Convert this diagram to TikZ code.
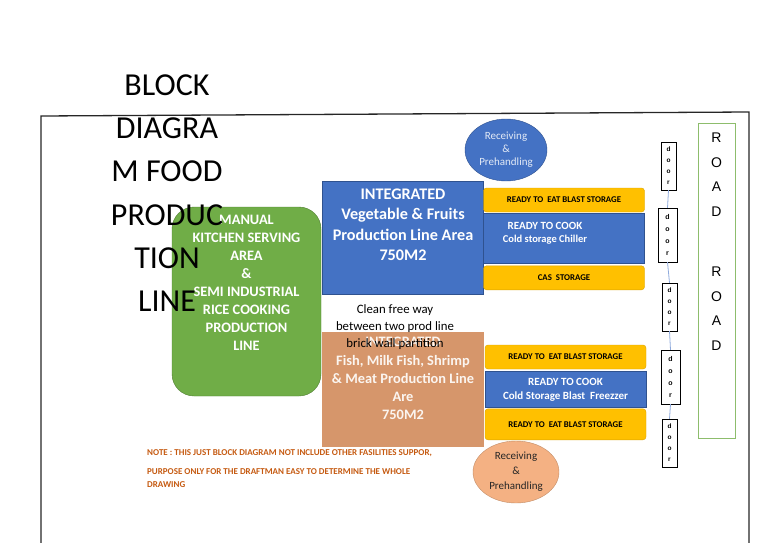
\documentclass[tikz,border=0pt]{standalone}
\usepackage{fontspec}
\setmainfont{Carlito}
\newfontfamily\fplarial{Liberation Sans}
\usepackage{xcolor}
\definecolor{fplblue}{HTML}{4472C4}
\definecolor{fplblueline}{HTML}{2F528F}
\definecolor{fplgreen}{HTML}{70AD47}
\definecolor{fplgreenline}{HTML}{507E32}
\definecolor{fpltan}{HTML}{D6966B}
\definecolor{fplsalmon}{HTML}{F4B183}
\definecolor{fplyellow}{HTML}{FFC000}
\definecolor{fplnote}{HTML}{C55A11}
\definecolor{fpllink}{HTML}{8FAADC}
\usepackage{tikz}
\usetikzlibrary{positioning,shapes.geometric}
\tikzset{
  fplarea/.style={draw,inner sep=0pt},
  fplstore/.style={draw=fplyellow!85!black,fill=fplyellow,rounded corners=3pt,minimum width=161pt,minimum height=24pt,inner sep=0pt,font=\bfseries\fontsize{8.8}{10}\selectfont},
  fplcold/.style={draw=fplblueline,fill=fplblue,minimum width=161pt,inner sep=0pt,text=white,align=center},
  fplrecv/.style={ellipse,inner sep=0pt,align=center,minimum width=82pt,minimum height=62pt},
  fpldoor/.style={draw,fill=white,inner sep=0pt,minimum width=15pt,align=center,font=\fplarial\bfseries\fontsize{6.5}{11}\selectfont},
  fpltext/.style={align=center,inner sep=0pt},
  fpllinkline/.style={draw=fpllink,line width=0.8pt},
}

\begin{document}
\begin{tikzpicture}[x=1pt,y=-1pt]
\useasboundingbox (0,0) rectangle (768,543);
 % site boundary
\draw[line width=1.3pt,black!85] (41,543) -- (41,116) -- (749,112) -- (749,543);
 % production areas
\node[fplarea,draw=fplgreenline,fill=fplgreen,rounded corners=22pt,minimum width=149pt,minimum height=189pt] (kitchen) at (246.5,301.5) {};
\node[fpltext,text=white,font=\bfseries\fontsize{14.4}{18}\selectfont,below=8.4pt of kitchen.north] (kitchentxt) {MANUAL\\KITCHEN SERVING\\AREA\\\&\\SEMI INDUSTRIAL\\RICE COOKING\\PRODUCTION\\LINE};
\node[fplarea,draw=fplblueline,fill=fplblue,minimum width=161pt,minimum height=113pt] (veg) at (403,237.5) {};
\node[fpltext,text=white,font=\bfseries\fontsize{16.2}{20.3}\selectfont,below=7.8pt of veg.north] (vegtxt) {INTEGRATED\\Vegetable \& Fruits\\Production Line Area\\750M2};
\node[fplarea,draw=fpltan,fill=fpltan,minimum width=161pt,minimum height=114pt] (meat) at (403,389) {};
\node[fpltext,text=white!90!fpltan,font=\bfseries\fontsize{14.4}{18.2}\selectfont,below=5.4pt of meat.north] (meattxt) {INTEGRATED\\Fish, Milk Fish, Shrimp\\\& Meat Production Line\\Are\\750M2};
\node[fpltext,font=\fontsize{12.8}{17}\selectfont] (cleanway) at (395,327) {Clean free way\\between two prod line\\brick wall partition};
 % storage upper line
\node[fplstore] (eat1) at (564,200) {READY TO\ \ EAT BLAST STORAGE};
\node[fplcold,minimum height=50pt,below=1pt of eat1] (chill) {};
\node[fpltext,text=white,font=\bfseries\fontsize{10.5}{13}\selectfont] (chilltxt) at ([xshift=-19pt,yshift=5.5pt]chill.center) {{\fontsize{11}{13}\selectfont READY TO COOK}\\Cold storage Chiller};
\node[fplstore,below=2pt of chill] (cas) {CAS\ \ STORAGE};
 % storage lower line
\node[fplstore] (eat2) at (565.5,357) {READY TO\ \ EAT BLAST STORAGE};
\node[fplcold,minimum height=36pt,below=2pt of eat2,font=\bfseries\fontsize{11}{14}\selectfont] (freeze) {READY TO COOK\\Cold Storage Blast\ \ Freezzer};
\node[fplstore,minimum height=31pt,below=1pt of freeze] (eat3) {READY TO\ \ EAT BLAST STORAGE};
 % receiving
\node[fplrecv,draw=fplblueline,fill=fplblue,text=white!85!fplblue,font=\fontsize{11}{13}\selectfont] (recv1) at (506,150) {Receiving\\\&\\Prehandling};
\node[fplrecv,minimum width=86pt,draw=fplsalmon!80!black,fill=fplsalmon,text=black!85,font=\fontsize{11}{15}\selectfont] (recv2) at (516,472) {Receiving\\\&\\Prehandling};
 % doors
\node[fpldoor,minimum height=48pt] (d1) at (668.5,166) {d\\o\\o\\r};
\node[fpldoor,minimum width=19pt,minimum height=54pt,font=\fplarial\bfseries\fontsize{7}{12}\selectfont] (d2) at (667.5,235) {d\\o\\o\\r};
\node[fpldoor,minimum height=48pt] (d3) at (669.5,307) {d\\o\\o\\r};
\node[fpldoor,minimum width=19pt,minimum height=54pt,font=\fplarial\bfseries\fontsize{7}{12}\selectfont] (d4) at (670.5,377) {d\\o\\o\\r};
\node[fpldoor,minimum height=48pt] (d5) at (669.5,443) {d\\o\\o\\r};
\draw[fpllinkline] (d1.south) -- (d2.north);
\draw[fpllinkline] (d2.south) -- (d3.north);
\draw[fpllinkline] (d3.south) -- (d4.north);
\draw[fpllinkline] (d4.south) -- (d5.north);
 % road
\node[draw=fplgreen!80,line width=0.8pt,minimum width=37pt,minimum height=315pt,inner sep=0pt] (road) at (716.5,281) {};
\node[fpltext,font=\fplarial\fontsize{14}{24.5}\selectfont,below=10pt of road.north] (roadtxt) {R\\O\\A\\D\\[36pt]R\\O\\A\\D};
 % note and title
\node[anchor=north west,inner sep=0pt,align=left,text=fplnote,font=\bfseries\fontsize{9}{13}\selectfont] (note) at (147,449) {NOTE : THIS JUST BLOCK DIAGRAM NOT INCLUDE OTHER FASILITIES SUPPOR,\\[6pt]PURPOSE ONLY FOR THE DRAFTMAN EASY TO DETERMINE THE WHOLE\\DRAWING};
\node[fpltext,font=\fontsize{32}{43.3}\selectfont] (title) at (167,193) {BLOCK\\DIAGRA\\M FOOD\\PRODUC\\TION\\LINE};
\end{tikzpicture}
\end{document}
